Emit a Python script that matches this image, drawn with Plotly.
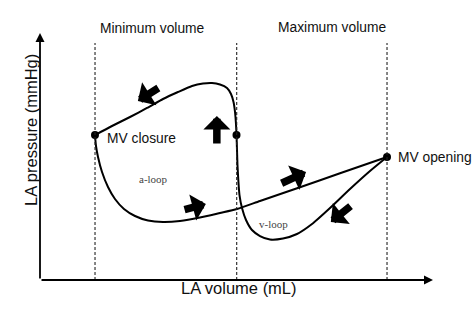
import plotly.graph_objects as go

# Schematic LA pressure-volume loop (arbitrary units: volume 0-100, pressure 0-100)
# Segment from MV closure over the top, down through the v-loop to MV opening
vol_upper = [13.99, 18.32, 22.90, 27.23, 31.30, 35.11, 38.68, 41.48, 43.77, 45.80, 47.58,
             48.60, 49.24, 49.62, 49.87, 50.00, 50.13, 50.25, 50.46, 50.76, 51.40, 52.42,
             53.94, 55.98, 58.52, 61.83, 65.39, 69.21, 73.79, 78.88, 83.97, 88.30]
prs_upper = [58.70, 62.35, 65.99, 69.64, 73.28, 76.11, 78.54, 79.55, 79.76, 79.15, 77.73,
             75.30, 72.06, 68.02, 63.16, 58.70, 52.63, 46.56, 40.49, 34.41, 29.15, 24.29,
             20.24, 17.81, 16.40, 16.80, 18.62, 22.67, 29.15, 36.84, 44.13, 49.80]
# Segment from MV opening back along the bottom (a-loop) to MV closure
vol_lower = [88.30, 76.34, 66.16, 55.98, 50.13, 45.80, 40.71, 35.62, 31.30, 27.48, 24.17,
             21.37, 19.08, 17.30, 15.78, 14.76, 14.25, 13.99]
prs_lower = [49.80, 43.20, 37.57, 31.98, 28.74, 27.13, 25.30, 23.89, 23.48, 24.09, 25.91,
             28.74, 32.79, 37.65, 43.72, 49.80, 54.25, 58.70]

# Key events
event_vol = [13.99, 50.00, 88.30]
event_prs = [58.70, 58.70, 49.80]
event_labels = ["MV closure", "", "MV opening"]

# Reference volumes (dashed verticals)
ref_vol = [14.0, 50.05, 88.3]
ref_labels = ["Minimum volume", "", "Maximum volume"]

# Flow direction arrows (tail -> tip)
arrow_tail_v = [30.5, 45.0, 36.4, 61.1, 79.4]
arrow_tail_p = [78.1, 54.7, 28.3, 38.9, 30.4]
arrow_tip_v = [24.9, 45.0, 42.2, 67.7, 74.0]
arrow_tip_p = [72.5, 66.4, 30.8, 43.7, 23.5]

SANS = "Liberation Sans, Arial, sans-serif"
SERIF = "Liberation Serif, Times New Roman, serif"

fig = go.Figure()
for xs, ys in [(vol_upper, prs_upper), (vol_lower, prs_lower)]:
    fig.add_trace(go.Scatter(x=xs, y=ys, mode="lines",
                             line=dict(color="black", width=2, shape="spline", smoothing=0.6),
                             hoverinfo="skip", showlegend=False))
fig.add_trace(go.Scatter(x=event_vol, y=event_prs, mode="markers",
                         marker=dict(color="black", size=8), showlegend=False))

shapes = []
for v in ref_vol:
    shapes.append(dict(type="line", xref="x", yref="y", x0=v, x1=v, y0=0, y1=96,
                       line=dict(color="#222", width=1.1, dash="3px,2px")))

ann = []
# axes with arrowheads
ann.append(dict(x=100, y=0, ax=0, ay=0, xref="x", yref="y", axref="x", ayref="y",
                showarrow=True, arrowhead=2, arrowsize=1, arrowwidth=1.8, arrowcolor="black", text=""))
ann.append(dict(x=0, y=100, ax=0, ay=0, xref="x", yref="y", axref="x", ayref="y",
                showarrow=True, arrowhead=2, arrowsize=1, arrowwidth=1.8, arrowcolor="black", text=""))
# block arrows
for tv, tp, hv, hp in zip(arrow_tail_v, arrow_tail_p, arrow_tip_v, arrow_tip_p):
    ann.append(dict(x=hv, y=hp, ax=tv, ay=tp, xref="x", yref="y", axref="x", ayref="y",
                    showarrow=True, arrowhead=1, arrowsize=0.6, arrowwidth=7.5,
                    arrowcolor="black", text="", standoff=0, startstandoff=0))
# labels
ann.append(dict(x=0.1476, y=1.0567, xref="paper", yref="paper", text=ref_labels[0], showarrow=False,
                font=dict(family=SANS, size=13.8, color="#111")))
ann.append(dict(x=0.8855, y=1.0607, xref="paper", yref="paper", text=ref_labels[2], showarrow=False,
                font=dict(family=SANS, size=13.8, color="#111")))
ann.append(dict(x=16.5, y=57.1, xref="x", yref="y", text=event_labels[0], showarrow=False,
                xanchor="left", font=dict(family=SANS, size=13.8, color="#111")))
ann.append(dict(x=90.6, y=49.4, xref="x", yref="y", text=event_labels[2], showarrow=False,
                xanchor="left", font=dict(family=SANS, size=13.8, color="#111")))
ann.append(dict(x=29.0, y=40.9, xref="x", yref="y", text="a-loop", showarrow=False,
                font=dict(family=SERIF, size=11, color="#444")))
ann.append(dict(x=59.3, y=22.7, xref="x", yref="y", text="v-loop", showarrow=False,
                font=dict(family=SERIF, size=11, color="#444")))
ann.append(dict(x=0.5064, y=-0.0769, xref="paper", yref="paper", text="LA volume (mL)", showarrow=False,
                font=dict(family=SANS, size=16.5, color="#111")))
ann.append(dict(x=-0.0509, y=0.6073, xref="paper", yref="paper", text="LA pressure (mmHg)", showarrow=False,
                textangle=-90, font=dict(family=SANS, size=16.5, color="#111")))

fig.update_layout(
    width=474, height=321,
    margin=dict(l=40, r=41, t=33, b=41),
    paper_bgcolor="white", plot_bgcolor="white",
    xaxis=dict(range=[0, 100], visible=False, fixedrange=True),
    yaxis=dict(range=[0, 100], visible=False, fixedrange=True),
    shapes=shapes, annotations=ann, showlegend=False,
)
fig.write_html("out.html", config={"displayModeBar": False})
